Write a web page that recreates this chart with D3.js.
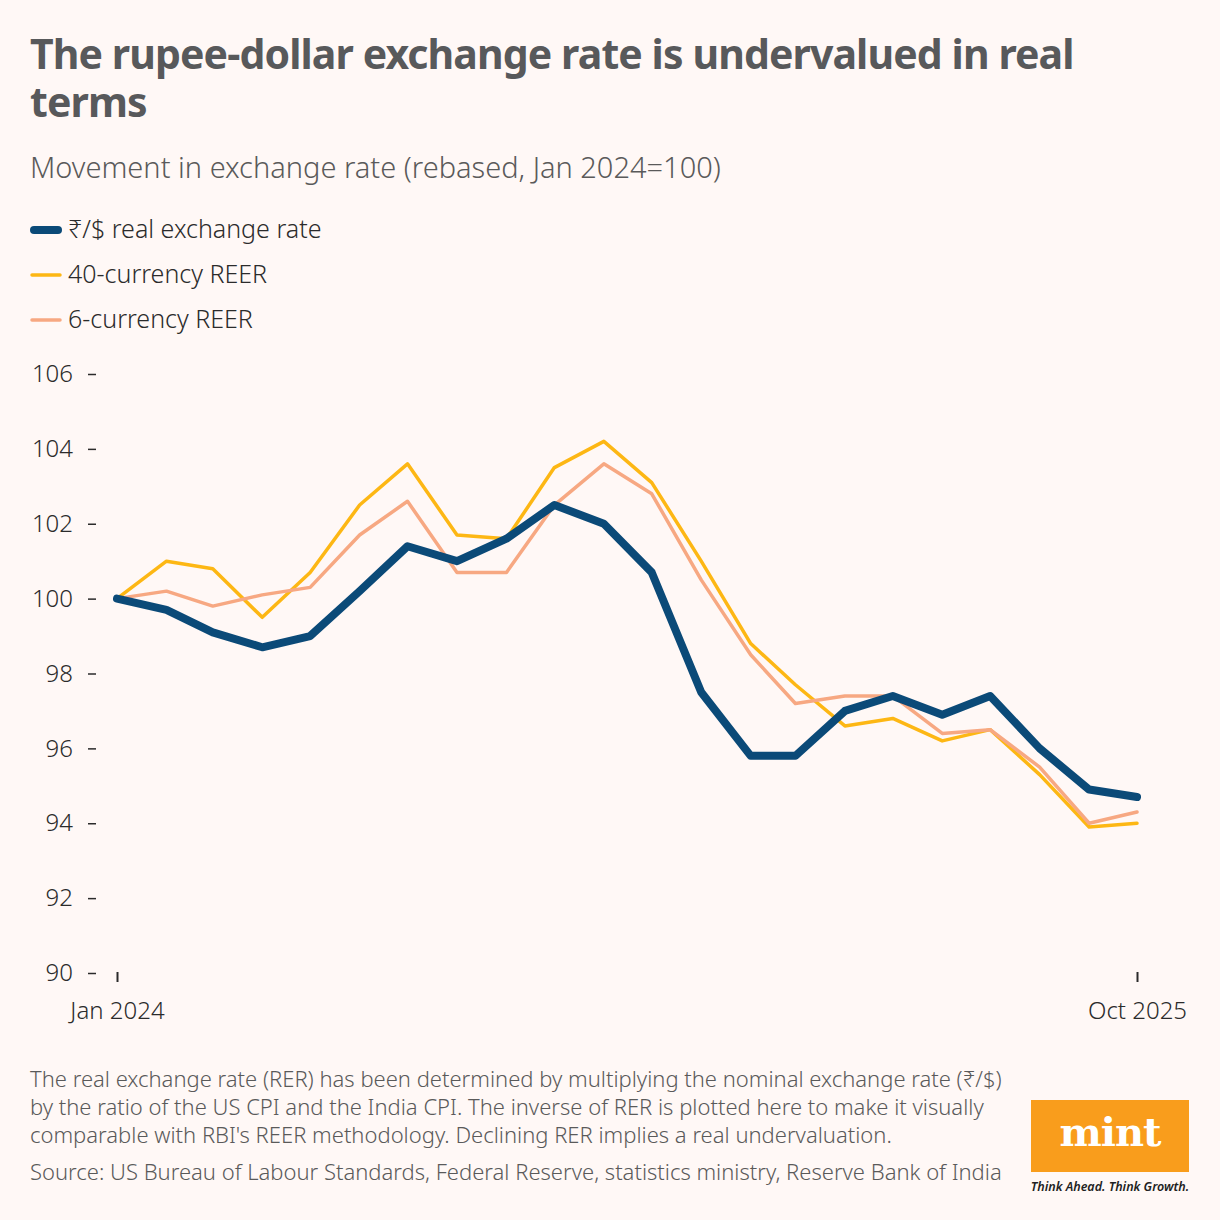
<!DOCTYPE html>
<html>
<head>
<meta charset="utf-8">
<script src="https://cdn.jsdelivr.net/npm/d3@7"></script>
<style>
  html, body { margin: 0; padding: 0; background: #fff8f6; }
  #chart { width: 1220px; height: 1220px; }
  text { font-family: "Noto Sans", "Open Sans", sans-serif; }
</style>
</head>
<body>
<div id="chart"></div>
<script>
// monthly, Jan 2024 .. Oct 2025
const months = d3.range(22).map((i) => new Date(2024, i, 1));
const realRate = [100, 99.7, 99.1, 98.7, 99.0, 100.2, 101.4, 101.0, 101.6, 102.5, 102.0, 100.7,
  97.5, 95.8, 95.8, 97.0, 97.4, 96.9, 97.4, 96.0, 94.9, 94.7];
const reer40 = [100, 101.0, 100.8, 99.5, 100.7, 102.5, 103.6, 101.7, 101.6, 103.5, 104.2, 103.1,
  101.0, 98.8, 97.7, 96.6, 96.8, 96.2, 96.5, 95.3, 93.9, 94.0];
const reer6 = [100, 100.2, 99.8, 100.1, 100.3, 101.7, 102.6, 100.7, 100.7, 102.5, 103.6, 102.8,
  100.5, 98.5, 97.2, 97.4, 97.4, 96.4, 96.5, 95.5, 94.0, 94.3];
const yTicks = [90, 92, 94, 96, 98, 100, 102, 104, 106];
const xTickLabels = ["Jan 2024", "Oct 2025"];

const seriesList = [
  { name: "40-currency REER", values: reer40, color: "#fdb714", width: 3.5 },
  { name: "6-currency REER", values: reer6, color: "#f7a882", width: 3.5 },
  { name: "₹/$ real exchange rate", values: realRate, color: "#0b4a78", width: 8 },
];
const legendOrder = [seriesList[2], seriesList[0], seriesList[1]];

const W = 1220, H = 1220;
const svg = d3.select("#chart").append("svg").attr("width", W).attr("height", H);
svg.append("rect").attr("width", W).attr("height", H).attr("fill", "#fff8f6");

// titles
const title = svg.append("text").attr("x", 30).attr("y", 69)
  .attr("font-size", 41).attr("font-weight", 700).attr("fill", "#58595b")
  .attr("letter-spacing", -0.9);
title.append("tspan").attr("x", 30).text("The rupee-dollar exchange rate is undervalued in real");
title.append("tspan").attr("x", 30).attr("dy", 48).text("terms");

svg.append("text").attr("x", 30).attr("y", 178)
  .attr("font-size", 29).attr("font-weight", 300).attr("fill", "#5a5a5a")
  .text("Movement in exchange rate (rebased, Jan 2024=100)");

// legend
const legend = svg.append("g").selectAll("g").data(legendOrder).join("g")
  .attr("transform", (d, i) => `translate(30, ${230 + i * 45})`);
legend.append("line")
  .attr("x1", (d, i) => (i === 0 ? 4 : 2))
  .attr("x2", (d, i) => (i === 0 ? 28 : 30))
  .attr("stroke", (d) => d.color)
  .attr("stroke-width", (d, i) => (i === 0 ? 8 : 3.5))
  .attr("stroke-linecap", "round");
legend.append("text").attr("x", 38).attr("y", 8)
  .attr("font-size", 25).attr("font-weight", 300).attr("fill", "#2b2b2b")
  .text((d) => d.name);

// scales
const x = d3.scaleTime().domain(d3.extent(months)).range([117, 1137]);
const y = d3.scaleLinear().domain([90, 106]).range([973, 374]);

// y axis
const yAxis = svg.append("g").attr("transform", "translate(96,0)")
  .call(d3.axisLeft(y).tickValues(yTicks).tickSize(8).tickPadding(15));
yAxis.select(".domain").remove();
yAxis.selectAll(".tick line").attr("stroke", "#2b2b2b").attr("stroke-width", 1.5);
yAxis.selectAll(".tick text").attr("font-size", 24).attr("fill", "#2b2b2b")
  .attr("font-family", "Noto Sans, sans-serif").attr("font-weight", 300);

// x axis
const xAxis = svg.append("g").attr("transform", "translate(0,972)")
  .call(d3.axisBottom(x).tickValues([months[0], months[months.length - 1]])
    .tickSize(10).tickPadding(20)
    .tickFormat((d, i) => xTickLabels[i]));
xAxis.select(".domain").remove();
xAxis.selectAll(".tick line").attr("stroke", "#2b2b2b").attr("stroke-width", 2);
xAxis.selectAll(".tick text").attr("font-size", 24).attr("fill", "#2b2b2b")
  .attr("font-family", "Noto Sans, sans-serif").attr("font-weight", 300);

// lines
const line = d3.line().x((d, i) => x(months[i])).y((d) => y(d));
svg.append("g").selectAll("path").data(seriesList).join("path")
  .attr("d", (d) => line(d.values))
  .attr("fill", "none")
  .attr("stroke", (d) => d.color)
  .attr("stroke-width", (d) => d.width)
  .attr("stroke-linejoin", "round")
  .attr("stroke-linecap", "round");

// footer
const noteLines = [
  "The real exchange rate (RER) has been determined by multiplying the nominal exchange rate (₹/$)",
  "by the ratio of the US CPI and the India CPI. The inverse of RER is plotted here to make it visually",
  "comparable with RBI's REER methodology. Declining RER implies a real undervaluation.",
];
svg.append("g").selectAll("text").data(noteLines).join("text")
  .attr("x", 30).attr("y", (d, i) => 1087 + i * 28)
  .attr("font-size", 22).attr("font-weight", 300).attr("fill", "#5a5a5a")
  .text((d) => d);
svg.append("text").attr("x", 30).attr("y", 1180)
  .attr("font-size", 22).attr("font-weight", 300).attr("fill", "#5a5a5a")
  .text("Source: US Bureau of Labour Standards, Federal Reserve, statistics ministry, Reserve Bank of India");

// mint logo
const logo = svg.append("g");
logo.append("rect").attr("x", 1031).attr("y", 1100).attr("width", 158).attr("height", 72)
  .attr("fill", "#f99d1c");
logo.append("text").attr("x", 1110).attr("y", 1146).attr("text-anchor", "middle")
  .attr("font-weight", 700)
  .attr("font-size", 40).attr("fill", "#ffffff").attr("letter-spacing", -1)
  .style("font-family", "DejaVu Serif, serif")
  .text("mint");
logo.append("text").attr("x", 1110).attr("y", 1191).attr("text-anchor", "middle")
  .attr("font-size", 12.5).attr("font-style", "italic").attr("font-weight", 600)
  .attr("fill", "#222").text("Think Ahead. Think Growth.");
</script>
</body>
</html>
